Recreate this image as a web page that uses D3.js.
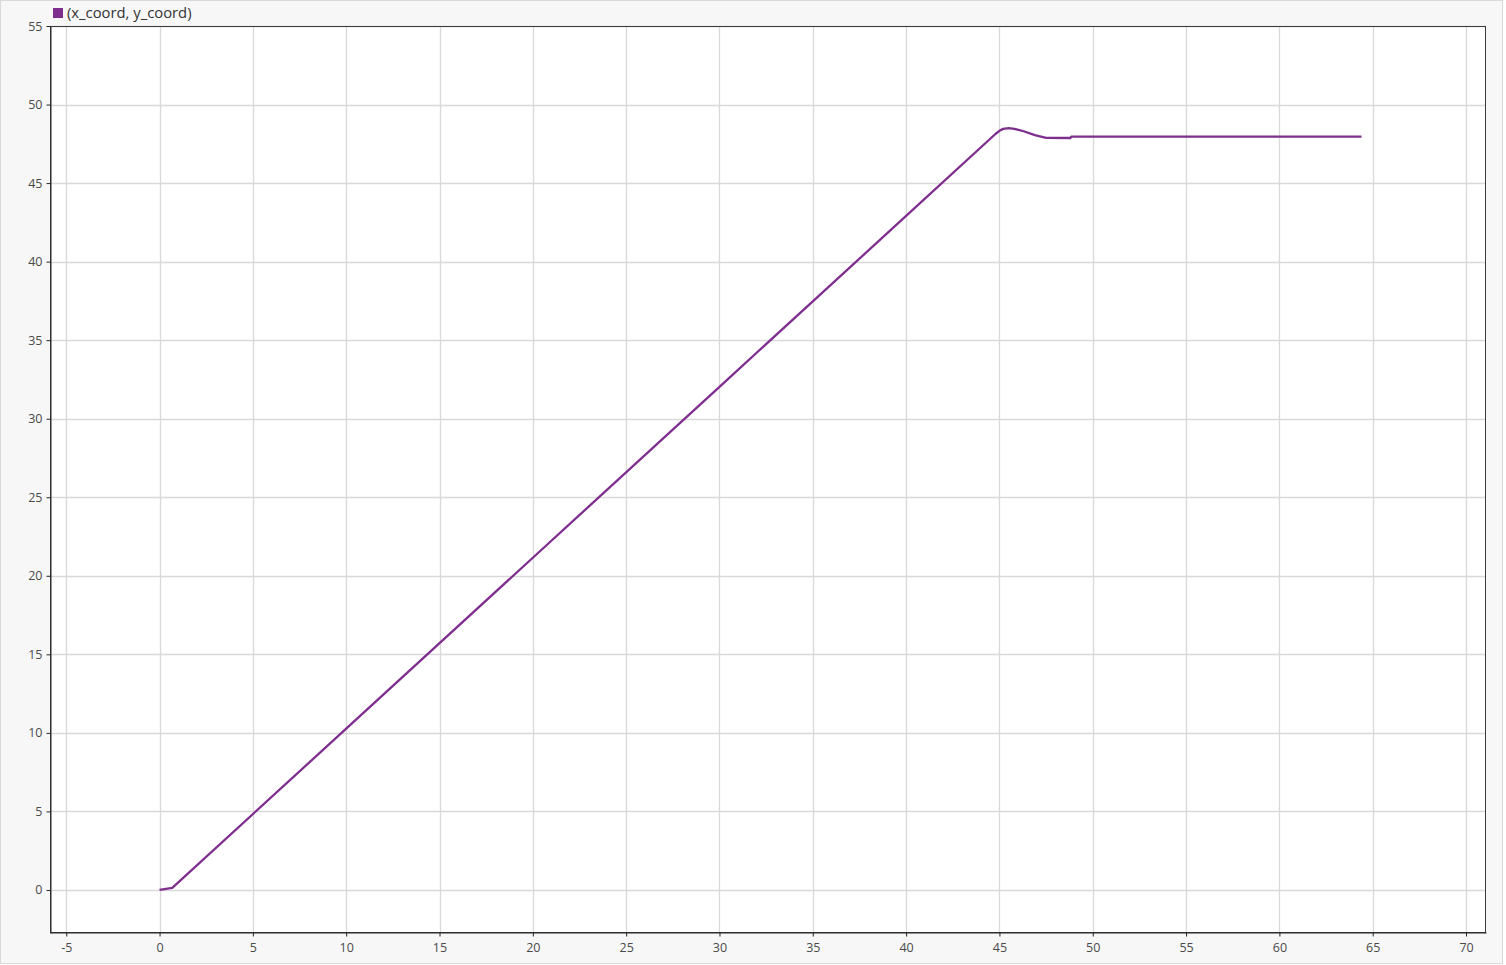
<html>
<head>
<meta charset="utf-8">
<script src="https://cdn.jsdelivr.net/npm/d3@7"></script>
<style>
  body { margin:0; padding:0; background:#ffffff; }
  svg { display:block; }
</style>
</head>
<body>
<div id="chart"></div>
<script>
// series
var x_coord = [0, 0.68, 10, 20, 30, 40, 44.8, 45.0, 45.2, 45.5, 45.8, 46.3, 46.9, 47.5, 48.8, 48.85, 64.4];
var y_coord = [0, 0.13, 10.27, 21.15, 32.03, 42.91, 48.14, 48.33, 48.45, 48.5, 48.45, 48.3, 48.05, 47.88, 47.87, 47.96, 47.96];
var x_ticks = [-5, 0, 5, 10, 15, 20, 25, 30, 35, 40, 45, 50, 55, 60, 65, 70];
var y_ticks = [0, 5, 10, 15, 20, 25, 30, 35, 40, 45, 50, 55];
var series_name = "(x_coord, y_coord)";

var W = 1506, H = 965;
var plot_left = 50, plot_top = 26, plot_right = 1486, plot_bottom = 933;
var line_color = "#7E2F8E";
var font = "'Open Sans', 'DejaVu Sans', sans-serif";

var svg = d3.select("#chart").append("svg")
  .attr("width", W)
  .attr("height", H);

// outer frame
svg.append("rect")
  .attr("x", 0.5).attr("y", 0.5)
  .attr("width", W - 4).attr("height", H - 2)
  .attr("fill", "#f7f7f7")
  .attr("stroke", "#d9d9d9");

var x = d3.scaleLinear().domain([-5.87, 71.07]).range([plot_left, plot_right]);
var y = d3.scaleLinear().domain([-2.74, 55]).range([plot_bottom, plot_top]);

// plot area
svg.append("rect")
  .attr("x", plot_left).attr("y", plot_top)
  .attr("width", plot_right - plot_left).attr("height", plot_bottom - plot_top)
  .attr("fill", "#ffffff");

// grid
svg.append("g").selectAll("line").data(x_ticks).enter().append("line")
  .attr("x1", function(d){return Math.round(x(d)) + 0.5;})
  .attr("x2", function(d){return Math.round(x(d)) + 0.5;})
  .attr("y1", plot_top).attr("y2", plot_bottom)
  .attr("stroke", "#d9d9d9").attr("stroke-width", 1.3);
svg.append("g").selectAll("line").data(y_ticks).enter().append("line")
  .attr("y1", function(d){return Math.round(y(d)) + 0.5;})
  .attr("y2", function(d){return Math.round(y(d)) + 0.5;})
  .attr("x1", plot_left).attr("x2", plot_right)
  .attr("stroke", "#d9d9d9").attr("stroke-width", 1.3);

// data line
var pts = x_coord.map(function(d, i){return [d, y_coord[i]];});
svg.append("path")
  .datum(pts)
  .attr("fill", "none")
  .attr("stroke", line_color)
  .attr("stroke-width", 2.3)
  .attr("stroke-linejoin", "round")
  .attr("d", d3.line().x(function(d){return x(d[0]);}).y(function(d){return y(d[1]);}));

// box
svg.append("rect")
  .attr("x", plot_left + 0.5).attr("y", plot_top + 0.5)
  .attr("width", plot_right - plot_left - 1).attr("height", plot_bottom - plot_top - 1)
  .attr("fill", "none")
  .attr("stroke", "#3a3a3a").attr("stroke-width", 1);

// axes
var xAxis = d3.axisBottom(x).tickValues(x_ticks).tickSize(4).tickSizeOuter(0)
  .tickFormat(function(d){return d;});
var yAxis = d3.axisLeft(y).tickValues(y_ticks).tickSize(4).tickSizeOuter(0)
  .tickFormat(function(d){return d;});

var gx = svg.append("g").attr("transform", "translate(0," + (plot_bottom - 0.5) + ")").call(xAxis);
var gy = svg.append("g").attr("transform", "translate(" + (plot_left + 0.5) + ",0)").call(yAxis);
[gx, gy].forEach(function(g){
  g.select(".domain").attr("stroke", "#262626");
  g.selectAll(".tick line").attr("stroke", "#262626");
  g.selectAll(".tick text")
    .attr("fill", "#4a4a4a")
    .attr("font-family", font)
    .attr("font-size", 12.5);
});
gx.selectAll(".tick text").attr("dy", "1.0em");
gy.selectAll(".tick text").attr("x", -8);

// legend
svg.append("rect")
  .attr("x", 53).attr("y", 8)
  .attr("width", 10).attr("height", 10)
  .attr("fill", line_color);
svg.append("text")
  .attr("x", 67).attr("y", 18)
  .attr("font-family", font)
  .attr("font-size", 14.8)
  .attr("fill", "#333333")
  .text(series_name);
</script>
</body>
</html>
